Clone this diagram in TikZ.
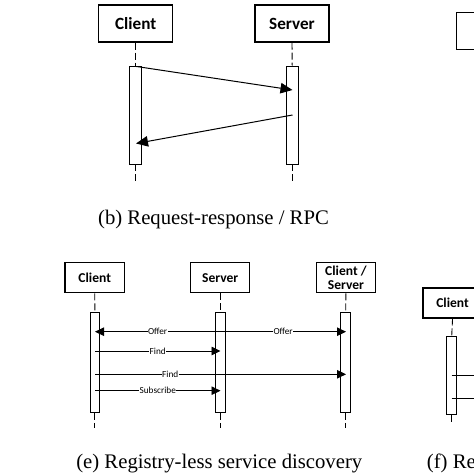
\documentclass[tikz,border=0pt]{standalone}
\usepackage{fontspec}
\setmainfont{Liberation Serif}
\setsansfont{Carlito}
\usetikzlibrary{arrows.meta}
\begin{document}
\begin{tikzpicture}[x=1bp,y=-1bp,
  lbox/.style={draw, line width=1.4bp, inner sep=0, font=\sffamily\bfseries\fontsize{17.2}{18}\selectfont, minimum width=74bp, minimum height=37bp},
  sbox/.style={draw, line width=1.2bp, inner sep=0, font=\sffamily\bfseries\fontsize{13.6}{16}\selectfont, minimum width=59.3bp, minimum height=30bp, align=center},
  actbar/.style={draw, line width=0.9bp, inner sep=0, fill=white},
  life/.style={line width=0.9bp, dash pattern=on 7bp off 3bp},
  bigmsg/.style={line width=1bp, -{Triangle[length=12bp,width=10.5bp]}},
  msg/.style={line width=0.9bp, -{Triangle[length=9bp,width=8.5bp]}},
  plainline/.style={line width=0.9bp},
  lbl/.style={font=\sffamily\fontsize{9.3}{10}\selectfont, fill=white, inner sep=0.4bp},
  captext/.style={font=\fontsize{20.8}{24}\selectfont, inner sep=0}
]
\useasboundingbox (0,0) rectangle (474,474);
\clip (0,0) rectangle (474,474);

% ---------- panel (b) ----------
\node[lbox] (c1) at (135.7,23.5) {Client};
\node[lbox] (s1) at (292,23.5) {Server};
\node[actbar, minimum width=12bp, minimum height=98bp] (cb1) at (135.7,115) {};
\node[actbar, minimum width=12bp, minimum height=98bp] (sb1) at (292.2,115) {};
\coordinate (c1end) at (135.7,184);
\coordinate (s1end) at (292.2,184);
\draw[life] (c1.south) -- (cb1.north);
\draw[life] (s1.south) -- (sb1.north);
\draw[life] (cb1.south) -- (c1end);
\draw[life] (sb1.south) -- (s1end);
\coordinate (a1s) at (136.5,66.5);
\coordinate (a1e) at (292.5,90);
\coordinate (a2s) at (292.5,115);
\coordinate (a2e) at (136,143.5);
\draw[bigmsg] (a1s) -- (a1e);
\draw[bigmsg] (a2s) -- (a2e);
\node[captext] (capb) at (213.5,220) {(b) Request-response / RPC};

% partial box top right
\node[lbox, anchor=north west] (x1) at (456,11.7) {};

% ---------- panel (e) ----------
\node[sbox] (c2) at (94.7,277.7) {Client};
\node[sbox] (s2) at (220.2,277.7) {Server};
\node[sbox] (cs2) at (345.9,277.7) {Client /\\[-1.5bp]Server};
\node[actbar, minimum width=9.7bp, minimum height=100.3bp] (cb2) at (94.9,362.2) {};
\node[actbar, minimum width=10.3bp, minimum height=100.3bp] (sb2) at (220.2,362.2) {};
\node[actbar, minimum width=10bp, minimum height=100.3bp] (csb2) at (345.7,362.2) {};
\coordinate (c2end) at (94.9,428);
\coordinate (s2end) at (220.2,428);
\coordinate (cs2end) at (345.7,428);
\draw[life] (c2.south) -- (cb2.north);
\draw[life] (s2.south) -- (sb2.north);
\draw[life] (cs2.south) -- (csb2.north);
\draw[life] (cb2.south) -- (c2end);
\draw[life] (sb2.south) -- (s2end);
\draw[life] (csb2.south) -- (cs2end);

\coordinate (oS) at (220.2,331.7);
\coordinate (oC) at (95,331.7);
\coordinate (oCS) at (346,331.7);
\coordinate (f1a) at (95,351);
\coordinate (f1b) at (220.5,351);
\coordinate (f2a) at (95,374.3);
\coordinate (f2b) at (346,374.3);
\coordinate (sua) at (95,390.7);
\coordinate (sub) at (220.5,390.7);
\draw[msg] (oS) -- (oC) node[lbl, pos=0.5] {Offer};
\draw[msg] (oS) -- (oCS) node[lbl, pos=0.5] {Offer};
\draw[msg] (f1a) -- (f1b) node[lbl, pos=0.5] {Find};
\draw[msg] (f2a) -- (f2b) node[lbl, pos=0.3] {Find};
\draw[msg] (sua) -- (sub) node[lbl, pos=0.5] {Subscribe};
\node[captext] (cape) at (219.3,463.3) {(e) Registry-less service discovery};

% ---------- panel (f), partial ----------
\node[sbox, anchor=north west] (c3) at (422.3,287.3) {Client};
\node[actbar, minimum width=10bp, minimum height=78bp] (cb3) at (451.7,375.7) {};
\coordinate (c3end) at (451.7,423);
\draw[life] (c3.south) -- (cb3.north);
\draw[life] (cb3.south) -- (c3end);
\coordinate (g1a) at (451.7,375.7);
\coordinate (g1b) at (480,375.7);
\coordinate (g2a) at (451.7,398.3);
\coordinate (g2b) at (480,398.3);
\draw[plainline] (g1a) -- (g1b);
\draw[plainline] (g2a) -- (g2b);
\node[captext, anchor=west] (capf) at (426.7,463.3) {(f) Re};
\end{tikzpicture}
\end{document}
